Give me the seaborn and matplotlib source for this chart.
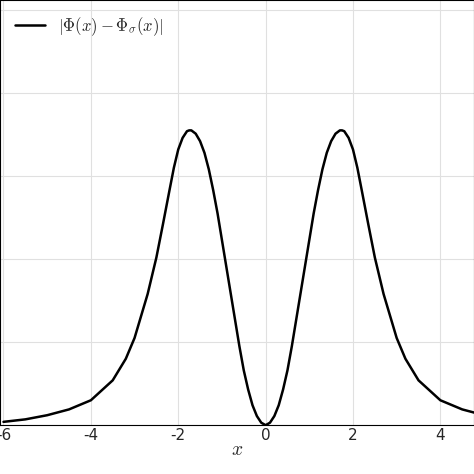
import numpy as np
import matplotlib
matplotlib.use("Agg")
import matplotlib.pyplot as plt
import seaborn as sns
import pandas as pd

xs_half = [0, 0.1, 0.2, 0.3, 0.4, 0.5, 0.6, 0.7, 0.85, 1.0, 1.1, 1.2, 1.3, 1.4, 1.5, 1.6, 1.7, 1.75, 1.8, 1.9, 2.0, 2.1, 2.2, 2.35, 2.5, 2.7, 3.0, 3.2, 3.5, 4.0, 4.5, 5.0, 5.5, 6.0]
ys_half = [0, 0.03, 0.11, 0.24, 0.43, 0.66, 0.95, 1.27, 1.75, 2.23, 2.55, 2.83, 3.08, 3.28, 3.42, 3.51, 3.55, 3.55, 3.54, 3.46, 3.32, 3.1, 2.83, 2.42, 2.02, 1.58, 1.05, 0.8, 0.54, 0.3, 0.19, 0.12, 0.07, 0.04]
x = [-v for v in xs_half[::-1]] + xs_half[1:]
y = ys_half[::-1] + ys_half[1:]
df = pd.DataFrame({"x": x, "y": y})

sns.set_style("white")
plt.rcParams["mathtext.fontset"] = "cm"
fig = plt.figure(figsize=(4.74, 4.74), dpi=100)
ax = fig.add_axes([0.0, 0.103, 1.0, 0.897])
sns.lineplot(data=df, x="x", y="y", ax=ax, color="black", lw=1.8,
             label=r"$|\Phi(x)-\Phi_\sigma(x)|$")
ax.set_xlim(-6.08, 4.77)
ax.set_ylim(0, 5.12)
ax.set_xticks([-6, -4, -2, 0, 2, 4])
ax.set_xticklabels(["-6", "-4", "-2", "0", "2", "4"], fontsize=11)
ax.set_yticks([0, 1, 2, 3, 4, 5])
ax.set_yticklabels([])
ax.tick_params(axis="x", pad=2, direction="in", length=4)
ax.grid(True, color="#e0e0e0", lw=0.8)
ax.set_xlabel(r"$x$", fontsize=14, labelpad=-2)
ax.set_ylabel("")
for s in ax.spines.values():
    s.set_color("black")
leg = ax.legend(loc="upper left", frameon=False, fontsize=12, handlelength=1.8,
                bbox_to_anchor=(0.0, 1.0))
fig.savefig("out.png", dpi=100)
